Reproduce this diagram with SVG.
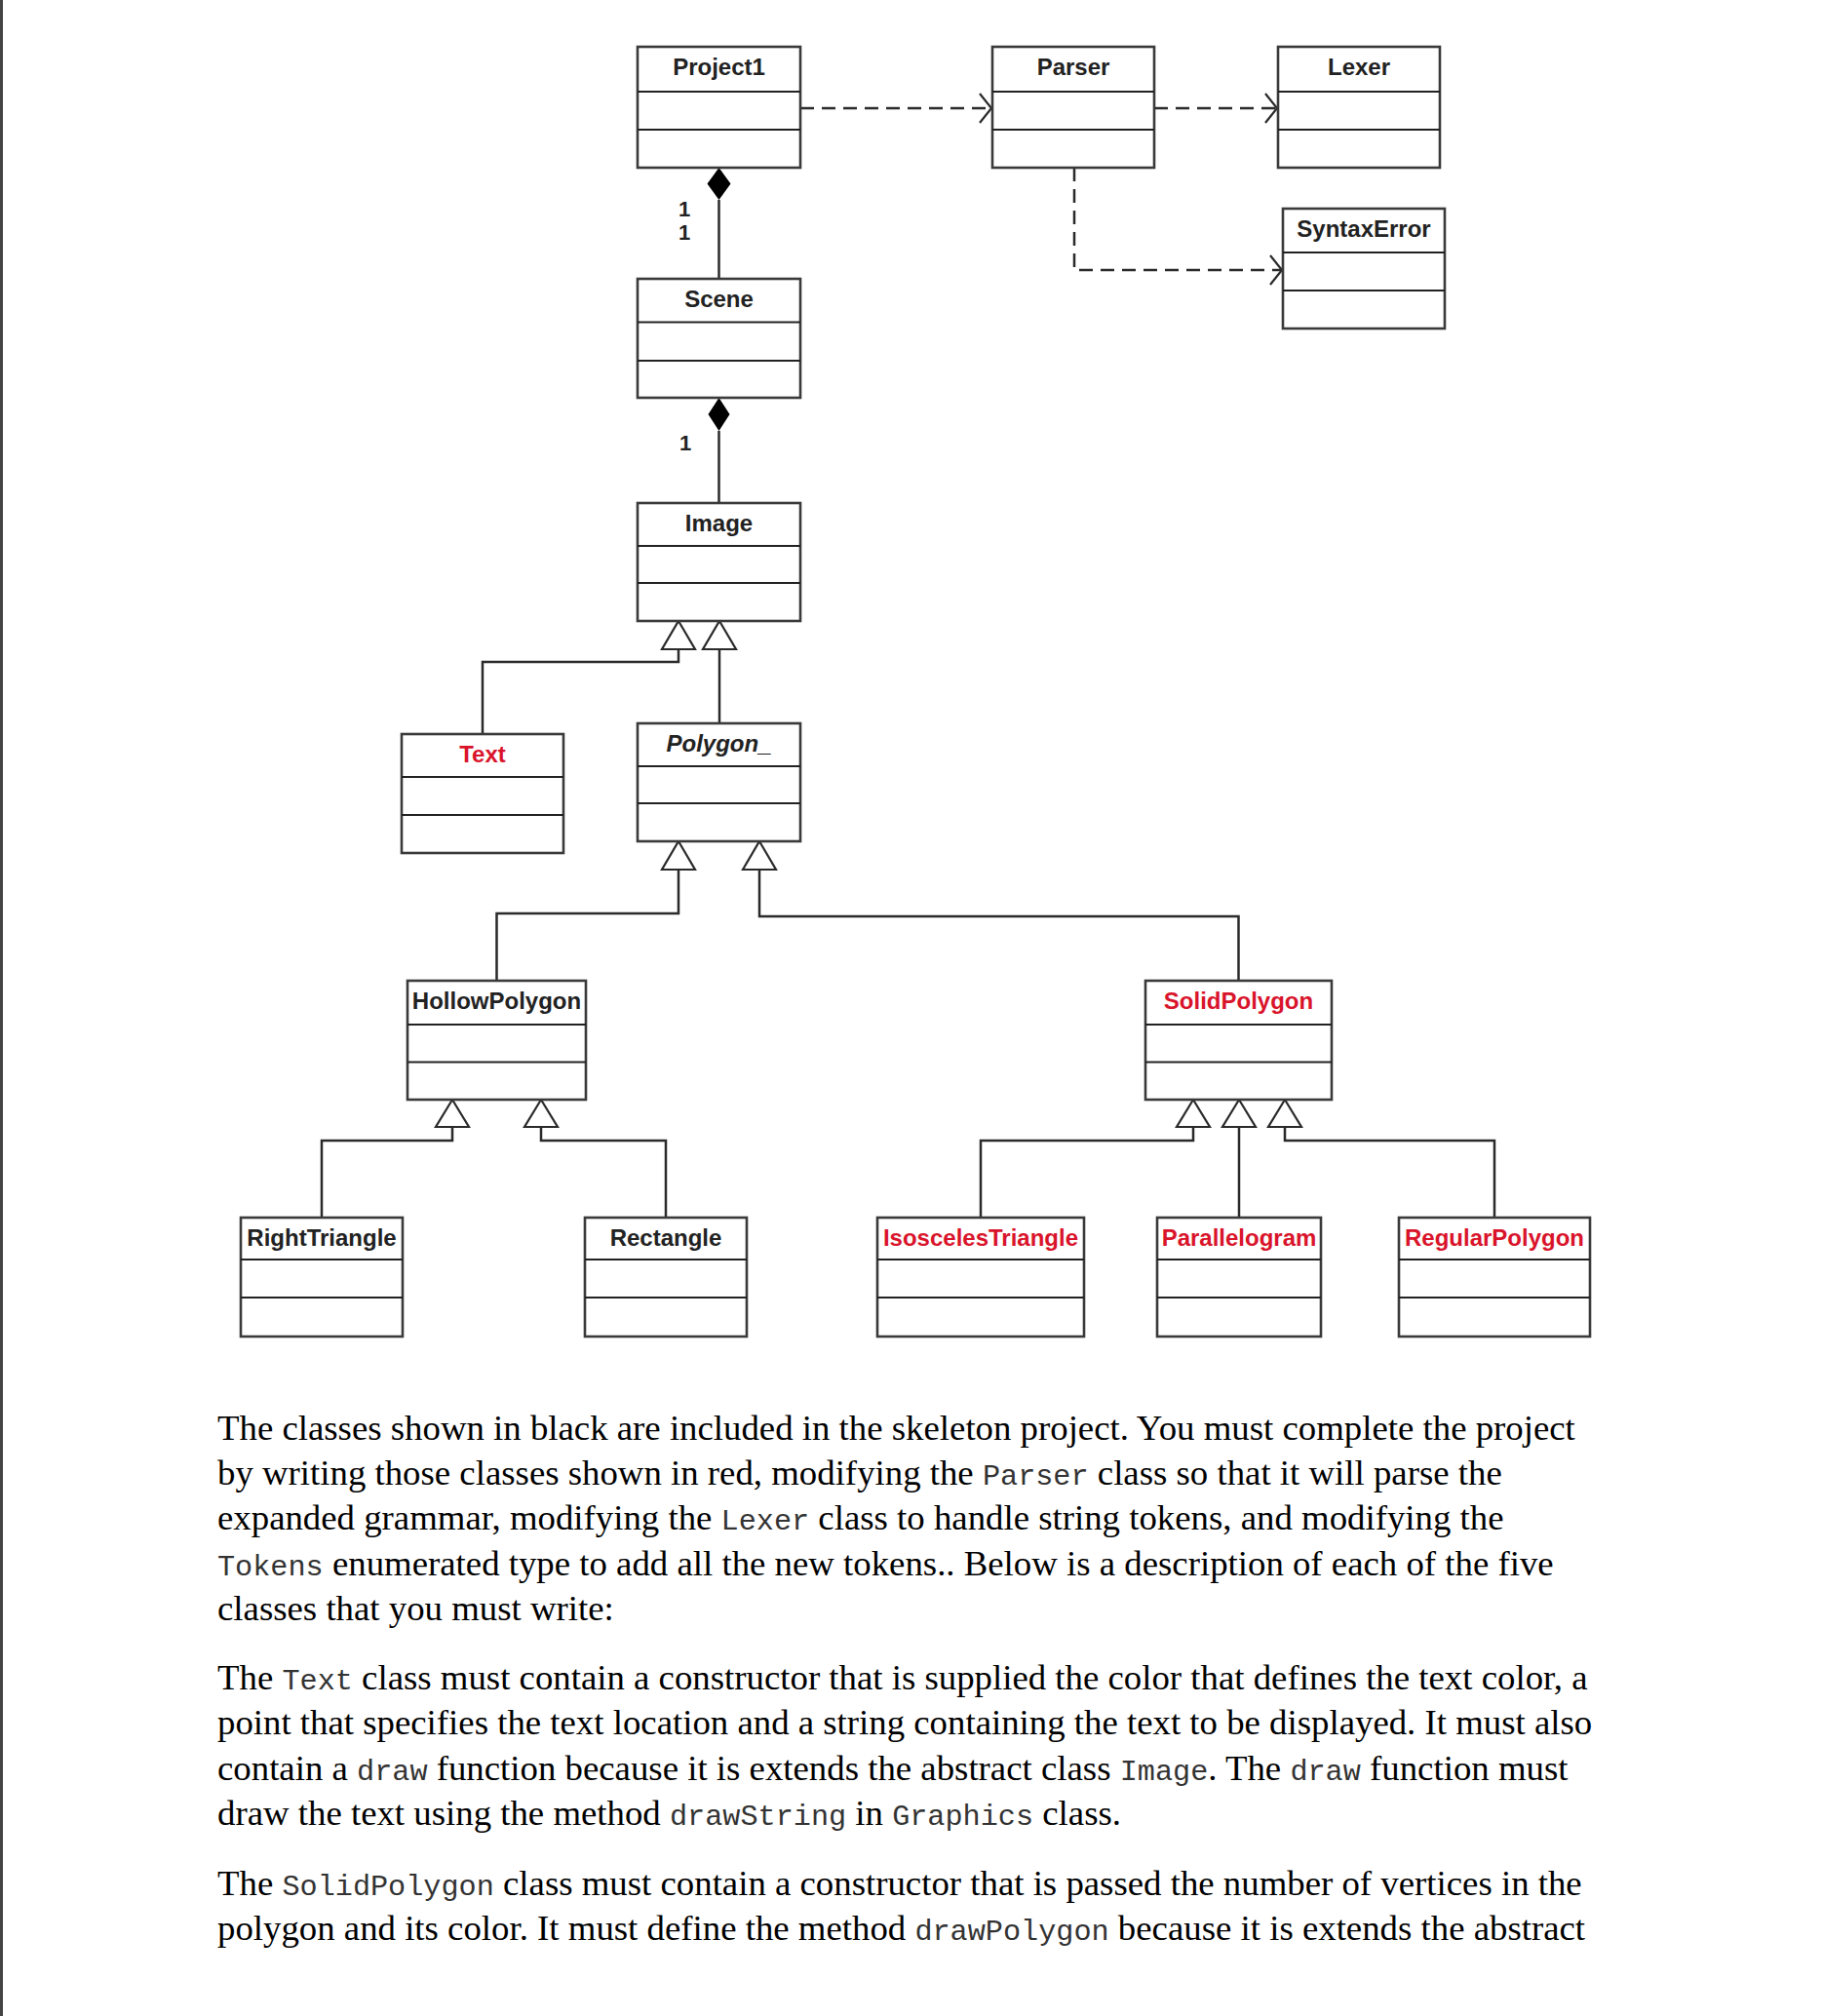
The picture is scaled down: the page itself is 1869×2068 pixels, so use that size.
<svg xmlns="http://www.w3.org/2000/svg" width="1869" height="2068" viewBox="0 0 1869 2068">
<style>
.box rect { fill:#fff; stroke:#3a3a3a; stroke-width:2.6 }
.box line { stroke:#222; stroke-width:2.2 }
.lbl { font-family:"Liberation Sans",Arial,sans-serif; font-weight:bold; font-size:24px; fill:#222; text-anchor:middle }
.red { fill:#d9142b }
.mult { font-family:"Liberation Sans",Arial,sans-serif; font-weight:bold; font-size:22px; fill:#222; text-anchor:middle }
.conn { fill:none; stroke:#2a2a2a; stroke-width:2.5 }
.dash { stroke-dasharray:14 8 }
.head { fill:none; stroke:#2a2a2a; stroke-width:2.2 }
.tri { fill:#fff; stroke:#2a2a2a; stroke-width:2.2; stroke-linejoin:miter }
.dia { fill:#000 }
.body { font-family:"Liberation Serif","Times New Roman",serif; font-size:36.8px; fill:#000 }
.mono { font-family:"Liberation Mono","Courier New",monospace; font-size:30.2px; fill:#333 }
</style>
<rect x="0" y="0" width="3" height="2068" fill="#444"/>

<g id="connectors">
  <path class="conn dash" d="M821 111 H1016"/>
  <polyline class="head" points="1005,96 1017,111 1005,126"/>
  <path class="conn dash" d="M1184 111 H1309"/>
  <polyline class="head" points="1298,96 1310,111 1298,126"/>
  <path class="conn dash" d="M1102 172 V277 H1314"/>
  <polyline class="head" points="1303,262 1315,277 1303,292"/>

  <path class="conn" d="M737.5 205 V286"/>
  <path class="dia" d="M737.5 172 L749.5 188.5 L737.5 205 L725.5 188.5 Z"/>
  <text class="mult" x="702" y="222">1</text>
  <text class="mult" x="702" y="246">1</text>
  <path class="conn" d="M737.5 442 V516"/>
  <path class="dia" d="M737.5 408 L748.5 425 L737.5 442 L726.5 425 Z"/>
  <text class="mult" x="703" y="462">1</text>

  <path class="conn" d="M696 666 V679 H495 V753"/>
  <path class="conn" d="M738 666 V742"/>
  <polygon class="tri" points="696,637 713,666 679,666"/>
  <polygon class="tri" points="738,637 755,666 721,666"/>

  <path class="conn" d="M696 892 V937 H509.5 V1006"/>
  <path class="conn" d="M779 892 V940 H1270.5 V1006"/>
  <polygon class="tri" points="696,863 713,892 679,892"/>
  <polygon class="tri" points="779,863 796,892 762,892"/>

  <path class="conn" d="M464 1156 V1170 H330 V1249"/>
  <path class="conn" d="M555 1156 V1170 H683 V1249"/>
  <polygon class="tri" points="464,1128 481,1156 447,1156"/>
  <polygon class="tri" points="555,1128 572,1156 538,1156"/>

  <path class="conn" d="M1224 1156 V1170 H1006 V1249"/>
  <path class="conn" d="M1271 1156 V1249"/>
  <path class="conn" d="M1318 1156 V1170 H1533 V1249"/>
  <polygon class="tri" points="1224,1128 1241,1156 1207,1156"/>
  <polygon class="tri" points="1271,1128 1288,1156 1254,1156"/>
  <polygon class="tri" points="1318,1128 1335,1156 1301,1156"/>
</g>

<g id="Project1" class="box"><rect x="654" y="48" width="167" height="124"/><line x1="654" y1="94" x2="821" y2="94"/><line x1="654" y1="133" x2="821" y2="133"/><text class="lbl" x="737.5" y="77">Project1</text></g>
<g id="Parser" class="box"><rect x="1018" y="48" width="166" height="124"/><line x1="1018" y1="94" x2="1184" y2="94"/><line x1="1018" y1="133" x2="1184" y2="133"/><text class="lbl" x="1101" y="77">Parser</text></g>
<g id="Lexer" class="box"><rect x="1311" y="48" width="166" height="124"/><line x1="1311" y1="94" x2="1477" y2="94"/><line x1="1311" y1="133" x2="1477" y2="133"/><text class="lbl" x="1394" y="77">Lexer</text></g>
<g id="SyntaxError" class="box"><rect x="1316" y="214" width="166" height="123"/><line x1="1316" y1="259" x2="1482" y2="259"/><line x1="1316" y1="298" x2="1482" y2="298"/><text class="lbl" x="1399" y="243">SyntaxError</text></g>
<g id="Scene" class="box"><rect x="654" y="286" width="167" height="122"/><line x1="654" y1="330.5" x2="821" y2="330.5"/><line x1="654" y1="370" x2="821" y2="370"/><text class="lbl" x="737.5" y="315">Scene</text></g>
<g id="Image" class="box"><rect x="654" y="516" width="167" height="121"/><line x1="654" y1="560" x2="821" y2="560"/><line x1="654" y1="598" x2="821" y2="598"/><text class="lbl" x="737.5" y="545">Image</text></g>
<g id="Text" class="box"><rect x="412" y="753" width="166" height="122"/><line x1="412" y1="797" x2="578" y2="797"/><line x1="412" y1="836" x2="578" y2="836"/><text class="lbl red" x="495" y="782">Text</text></g>
<g id="Polygon_" class="box"><rect x="654" y="742" width="167" height="121"/><line x1="654" y1="786" x2="821" y2="786"/><line x1="654" y1="824" x2="821" y2="824"/><text class="lbl" x="737.5" y="771" font-style="italic">Polygon_</text></g>
<g id="HollowPolygon" class="box"><rect x="418" y="1006" width="183" height="122"/><line x1="418" y1="1051" x2="601" y2="1051"/><line x1="418" y1="1089.5" x2="601" y2="1089.5"/><text class="lbl" x="509.5" y="1035">HollowPolygon</text></g>
<g id="SolidPolygon" class="box"><rect x="1175" y="1006" width="191" height="122"/><line x1="1175" y1="1051" x2="1366" y2="1051"/><line x1="1175" y1="1089.5" x2="1366" y2="1089.5"/><text class="lbl red" x="1270.5" y="1035">SolidPolygon</text></g>
<g id="RightTriangle" class="box"><rect x="247" y="1249" width="166" height="122"/><line x1="247" y1="1292" x2="413" y2="1292"/><line x1="247" y1="1331" x2="413" y2="1331"/><text class="lbl" x="330" y="1278">RightTriangle</text></g>
<g id="Rectangle" class="box"><rect x="600" y="1249" width="166" height="122"/><line x1="600" y1="1292" x2="766" y2="1292"/><line x1="600" y1="1331" x2="766" y2="1331"/><text class="lbl" x="683" y="1278">Rectangle</text></g>
<g id="IsoscelesTriangle" class="box"><rect x="900" y="1249" width="212" height="122"/><line x1="900" y1="1292" x2="1112" y2="1292"/><line x1="900" y1="1331" x2="1112" y2="1331"/><text class="lbl red" x="1006" y="1278">IsoscelesTriangle</text></g>
<g id="Parallelogram" class="box"><rect x="1187" y="1249" width="168" height="122"/><line x1="1187" y1="1292" x2="1355" y2="1292"/><line x1="1187" y1="1331" x2="1355" y2="1331"/><text class="lbl red" x="1271" y="1278">Parallelogram</text></g>
<g id="RegularPolygon" class="box"><rect x="1435" y="1249" width="196" height="122"/><line x1="1435" y1="1292" x2="1631" y2="1292"/><line x1="1435" y1="1331" x2="1631" y2="1331"/><text class="lbl red" x="1533" y="1278">RegularPolygon</text></g>

<g id="description">
<text class="body" x="223" y="1477">The classes shown in black are included in the skeleton project. You must complete the project</text>
<text class="body" x="223" y="1523">by writing those classes shown in red, modifying the <tspan class="mono">Parser</tspan> class so that it will parse the</text>
<text class="body" x="223" y="1569">expanded grammar, modifying the <tspan class="mono">Lexer</tspan> class to handle string tokens, and modifying the</text>
<text class="body" x="223" y="1616"><tspan class="mono">Tokens</tspan> enumerated type to add all the new tokens.. Below is a description of each of the five</text>
<text class="body" x="223" y="1662">classes that you must write:</text>

<text class="body" x="223" y="1733">The <tspan class="mono">Text</tspan> class must contain a constructor that is supplied the color that defines the text color, a</text>
<text class="body" x="223" y="1779">point that specifies the text location and a string containing the text to be displayed. It must also</text>
<text class="body" x="223" y="1826">contain a <tspan class="mono">draw</tspan> function because it is extends the abstract class <tspan class="mono">Image</tspan>. The <tspan class="mono">draw</tspan> function must</text>
<text class="body" x="223" y="1872">draw the text using the method <tspan class="mono">drawString</tspan> in <tspan class="mono">Graphics</tspan> class.</text>

<text class="body" x="223" y="1944">The <tspan class="mono">SolidPolygon</tspan> class must contain a constructor that is passed the number of vertices in the</text>
<text class="body" x="223" y="1990">polygon and its color. It must define the method <tspan class="mono">drawPolygon</tspan> because it is extends the abstract</text>
</g>
</svg>
